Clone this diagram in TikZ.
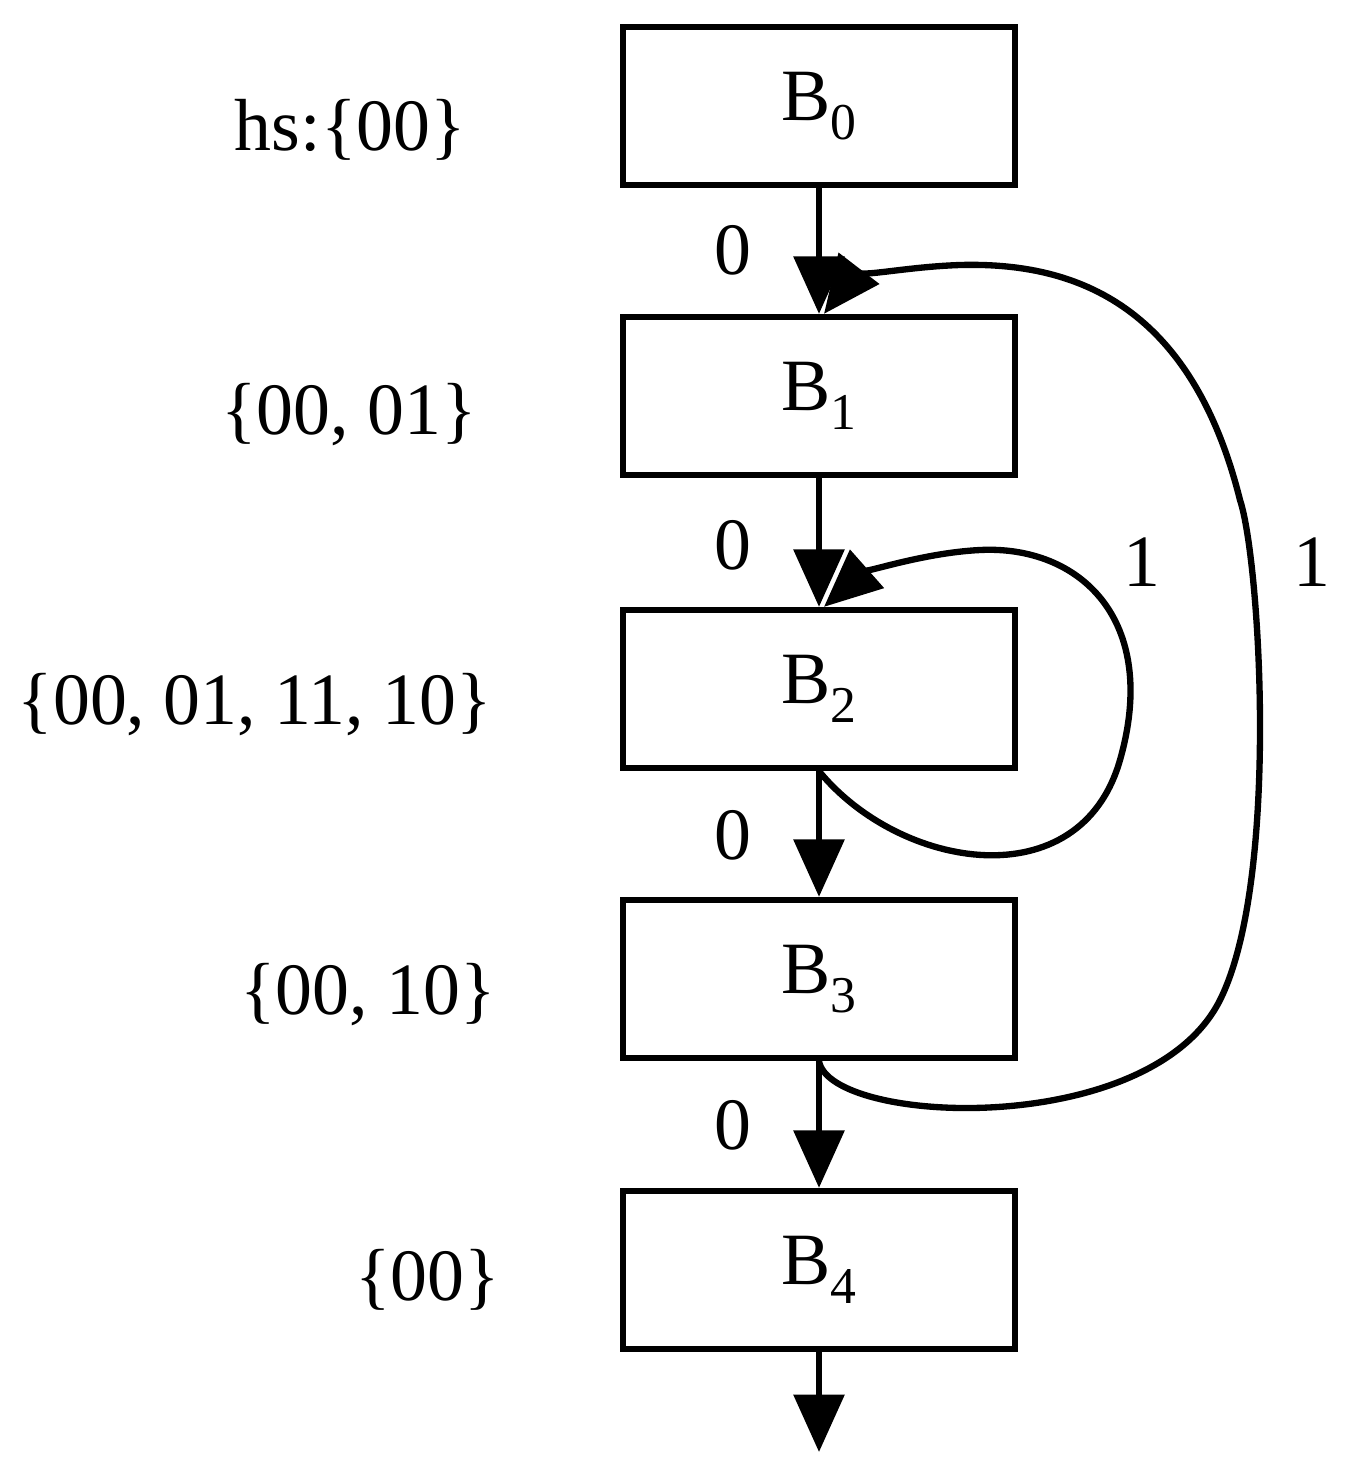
\documentclass[tikz,border=0pt]{standalone}
\usepackage{fontspec}
\setmainfont{Liberation Serif}
\usetikzlibrary{arrows.meta}
\begin{document}
\begin{tikzpicture}[x=0.02cm,y=-0.02cm,
  box/.style={draw,line width=3.6pt,minimum width=7.84cm,minimum height=3.16cm,inner sep=0pt,font=\fontsize{42}{48}\selectfont},
  lab/.style={font=\fontsize{42}{48}\selectfont,anchor=east,inner sep=0pt},
  arr/.style={line width=3.6pt,-{Triangle[length=1.15cm,width=1cm]}},
  cur/.style={line width=3.6pt,-{Triangle[length=1.15cm,width=1cm]}}]
\useasboundingbox (0,0) rectangle (1351,1478);
\node[box] (b0) at (819,106) {B$_{\mathrm 0}$};
\node[box] (b1) at (819,396) {B$_{\mathrm 1}$};
\node[box] (b2) at (819,689) {B$_{\mathrm 2}$};
\node[box] (b3) at (819,979) {B$_{\mathrm 3}$};
\node[box] (b4) at (819,1270) {B$_{\mathrm 4}$};
\coordinate (end) at (819,1452);
\node[lab] (l0) at (466,130) {hs:\{00\}};
\node[lab] (l1) at (477,415) {\{00, 01\}};
\node[lab] (l2) at (492,705) {\{00, 01, 11, 10\}};
\node[lab] (l3) at (496,995) {\{00, 10\}};
\node[lab] (l4) at (500,1280) {\{00\}};
\draw[arr] (b0.south) -- (b1.north);
\draw[arr] (b1.south) -- (b2.north);
\draw[arr] (b2.south) -- (b3.north);
\draw[arr] (b3.south) -- (b4.north);
\draw[arr] (b4.south) -- (end);
\foreach \y/\n in {250/z0,545/z1,835/z2,1125/z3}
  \node[font=\fontsize{42}{48}\selectfont] (\n) at (733,\y) {0};
\node[font=\fontsize{42}{48}\selectfont] (o1) at (1142,562) {1};
\node[font=\fontsize{42}{48}\selectfont] (o2) at (1312,562) {1};
\draw[cur] (b2.south) .. controls (900,870) and (1080,900) .. (1120,760)
  .. controls (1160,620) and (1080,545) .. (980,550)
  .. controls (920,553) and (860,575) .. ([xshift=0.1cm]b2.north);
\draw[cur] (b3.south) .. controls (830,1125) and (1150,1140) .. (1220,1000)
  .. controls (1280,880) and (1260,560) .. (1240,500)
  .. controls (1190,300) and (1070,262) .. (960,265)
  .. controls (900,267) and (850,280) .. ([xshift=0.1cm]b1.north);
\end{tikzpicture}
\end{document}
